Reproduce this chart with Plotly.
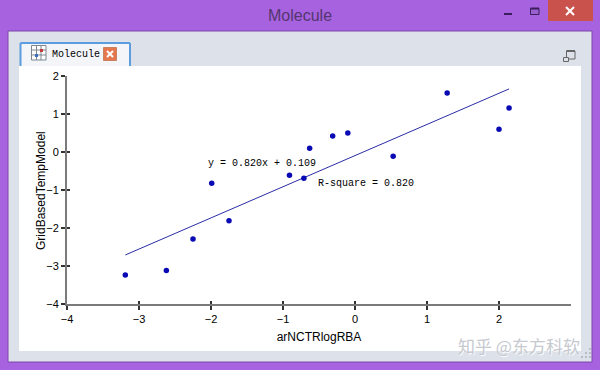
import plotly.graph_objects as go

W, H = 600, 370
px = lambda v: v / W
py = lambda v: 1 - v / H

# Data
point_x = [-3.19, -2.62, -2.25, -1.99, -1.75, -0.91, -0.71, -0.63, -0.31, -0.10, 0.53, 1.28, 2.00, 2.14]
point_y = [-3.24, -3.12, -2.29, -0.82, -1.81, -0.61, -0.69, 0.10, 0.42, 0.50, -0.11, 1.55, 0.60, 1.16]
fit_x = [-3.19, 2.14]
fit_y = [-2.71, 1.66]
x_ticks = [-4, -3, -2, -1, 0, 1, 2]
y_ticks = [-4, -3, -2, -1, 0, 1, 2]
x_title = "arNCTRlogRBA"
y_title = "GridBasedTempModel"
window_title = "Molecule"
equation = "y = 0.820x + 0.109"
r_square = "R-square = 0.820"
watermark = "知乎 @东方科软"

PURPLE = "#a762df"
PANEL = "#dde1e9"
AXIS = "#7b7b7b"


def rect(x0, y0, x1, y1, fill, line=None, lw=1):
    return dict(type="rect", xref="paper", yref="paper", layer="below",
                x0=px(x0), x1=px(x1), y0=py(y0), y1=py(y1),
                fillcolor=fill, line=dict(color=line or fill, width=lw if line else 0))


def seg(x0, y0, x1, y1, color, lw=1, layer="below"):
    return dict(type="line", xref="paper", yref="paper", layer=layer,
                x0=px(x0), x1=px(x1), y0=py(y0), y1=py(y1),
                line=dict(color=color, width=lw))


def label(text, x, y, family, size, color, anchor="left", **extra):
    font = dict(family=family, size=size, color=color)
    font.update(extra.pop("font_extra", {}))
    return dict(text=text, xref="paper", yref="paper", x=px(x), y=py(y), xanchor=anchor, yanchor="middle",
                showarrow=False, font=font, **extra)


shapes = [
    rect(0, 0, 600, 370, PURPLE),
    rect(8, 31, 592, 362, PANEL),
    seg(8, 31, 592, 31, "#7d46ad", 1),
    seg(8, 362, 592, 362, "#7d46ad", 1),
    seg(8, 31, 8, 362, "#7d46ad", 1),
    seg(592, 31, 592, 362, "#7d46ad", 1),
    rect(19, 66, 581, 351, "#ffffff"),
    # Tab
    rect(20.5, 43, 130, 66, "#f3f5f8"),
    seg(20.5, 43, 130, 43, "#5b9ddf", 2),
    seg(20.5, 43, 20.5, 66, "#5b9ddf", 2),
    seg(130, 43, 130, 66, "#5b9ddf", 2),
    # Tab icon
    rect(31.5, 45.5, 46, 60, "#ffffff", "#7d8790", 1),
    seg(36.5, 45.5, 36.5, 60, "#7d8790", 1),
    seg(41, 45.5, 41, 60, "#7d8790", 1),
    seg(31.5, 50, 46, 50, "#7d8790", 1),
    seg(31.5, 55, 46, 55, "#7d8790", 1),
    rect(40, 49, 43, 52, "#c43a3a"),
    rect(35, 54, 38, 57, "#3a6fc4"),
    # Tab close
    rect(103.5, 47.5, 116.5, 60.5, "#e5774f", "#c9805f", 1),
    seg(107, 51, 113, 57, "#ffffff", 2),
    seg(113, 51, 107, 57, "#ffffff", 2),
    # Window controls
    rect(548, 0, 593, 21, "#c9524c"),
    seg(566, 7, 574, 15, "#ffffff", 2),
    seg(574, 7, 566, 15, "#ffffff", 2),
    seg(504, 14, 512, 14, "#3a1f5c", 2),
    rect(530.5, 8.5, 539, 14.5, "#9a5fd0", "#3a1f5c", 1),
    seg(530.5, 8.5, 539, 8.5, "#3a1f5c", 2),
    # Restore icon
    rect(566.5, 51, 575, 59, PANEL, "#666666", 1),
    seg(566.5, 51, 575, 51, "#666666", 2),
    rect(563.5, 57.5, 568.5, 61.5, PANEL, "#666666", 1),
]
for gx, gy in [(590, 357), (586, 357), (582, 357), (590, 353), (586, 353), (590, 349)]:
    shapes.append(rect(gx - 1, gy - 1, gx + 1, gy + 1, "#b9bdc6"))

annotations = [
    label(window_title, 300, 15, "Liberation Sans", 16, "#54366f", "center"),
    label(window_title, 49.5, 54, "Liberation Mono", 10, "#000000"),
    label(equation, 206, 163.5, "Liberation Mono", 10, "#000000"),
    label(r_square, 316, 183.5, "Liberation Mono", 10, "#000000"),
    label(watermark, 456, 345, "Noto Sans CJK SC", 17, "#c6c9cf",
          font_extra=dict(shadow="1px 1px 1px #ffffff")),
    label(y_title, 41, 191, "Liberation Sans", 12, "#000000", "center", textangle=-90),
]

fig = go.Figure()
fig.add_trace(go.Scatter(x=fit_x, y=fit_y, mode="lines", line=dict(color="#2b2ba8", width=1), showlegend=False))
fig.add_trace(go.Scatter(x=point_x, y=point_y, mode="markers", marker=dict(color="#0a0ab4", size=5.5), showlegend=False))
# Transparent overlay trace makes the inward half of the crossing ticks appear
fig.add_trace(go.Scatter(x=point_x, y=point_y, mode="markers", marker=dict(opacity=0), xaxis="x2", yaxis="y2",
                         showlegend=False, hoverinfo="skip"))

xdom = [px(67), px(571)]
ydom = [py(304), py(76)]
common = dict(showgrid=False, zeroline=False, ticks="outside", ticklen=4, tickwidth=2, tickcolor="#333333",
              showline=True, linecolor=AXIS, linewidth=2, fixedrange=True, automargin=False)
fig.update_layout(
    width=W, height=H, margin=dict(l=0, r=0, t=0, b=0),
    paper_bgcolor=PURPLE, plot_bgcolor="rgba(0,0,0,0)",
    font=dict(family="Liberation Sans", size=11, color="#000000"),
    shapes=shapes, annotations=annotations,
    xaxis=dict(domain=xdom, range=[-4, 3], tickvals=x_ticks, ticktext=[str(v).replace("-", "−") for v in x_ticks],
               anchor="y", title=dict(text=x_title, font=dict(size=12), standoff=8), **common),
    yaxis=dict(domain=ydom, range=[-4, 2], tickvals=y_ticks, ticktext=[str(v).replace("-", "−") for v in y_ticks],
               anchor="x", **common),
    xaxis2=dict(overlaying="x", range=[-4, 3], tickvals=x_ticks, showticklabels=False, ticks="inside", ticklen=3,
                tickwidth=2, tickcolor="#333333", showgrid=False, zeroline=False, anchor="y2", side="bottom",
                automargin=False),
    yaxis2=dict(overlaying="y", range=[-4, 2], tickvals=y_ticks, showticklabels=False, ticks="inside", ticklen=3,
                tickwidth=2, tickcolor="#333333", showgrid=False, zeroline=False, anchor="x2", side="left",
                automargin=False),
)
fig.write_html("out.html", config=dict(displayModeBar=False),
               post_script="document.body.style.margin='0';document.body.style.overflow='hidden';")
